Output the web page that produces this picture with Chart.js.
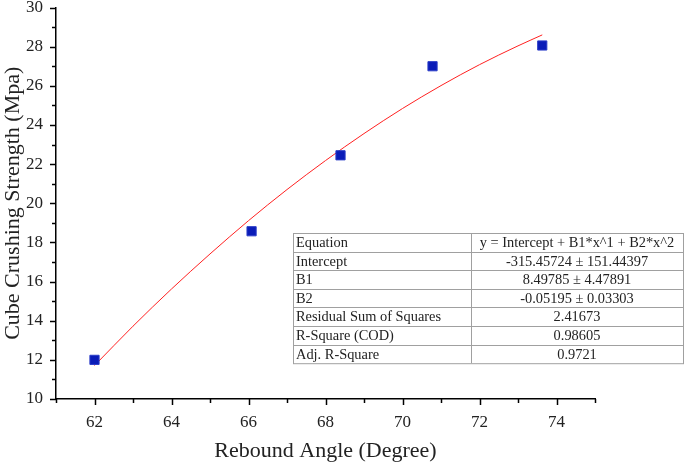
<!DOCTYPE html>
<html>
<head>
<meta charset="utf-8">
<script src="https://cdn.jsdelivr.net/npm/chart.js@4"></script>
<style>
  html, body { margin: 0; padding: 0; background: #fff; }
  #wrap { width: 685px; height: 464px; }
</style>
</head>
<body>
<div id="wrap"><canvas id="graf"></canvas></div>
<script>
// ---------- dados ----------
const reboundAngle = [62.0, 66.08, 68.39, 70.78, 73.63];
const cubeStrength = [12.0, 18.57, 22.45, 27.0, 28.06];

// curva ajustada
const fitX = [62, 63, 64, 65, 66, 67, 68, 69, 70, 71, 72, 73, 73.63];
const fitY = [11.71, 13.72, 15.62, 17.41, 19.11, 20.7, 22.18, 23.56, 24.84, 26.01, 27.08, 28.04, 28.6];

const tableLabels = ["Equation", "Intercept", "B1", "B2", "Residual Sum of Squares", "R-Square (COD)", "Adj. R-Square"];
const tableValues = ["y = Intercept + B1*x^1 + B2*x^2", "-315.45724 \u00b1 151.44397", "8.49785 \u00b1 4.47891",
  "-0.05195 \u00b1 0.03303", "2.41673", "0.98605", "0.9721"];

const SERIF = "'Liberation Serif', 'DejaVu Serif', serif";

// ---------- ticks menores/maiores ----------
const ticksPlugin = {
  id: "ticks",
  afterDraw(chart) {
    const ctx = chart.ctx;
    const xs = chart.scales.x, ys = chart.scales.y;
    ctx.save();
    ctx.strokeStyle = "#000";
    ctx.lineWidth = 1.5;
    for (let v = xs.min; v <= xs.max; v++) {
      const px = Math.round(xs.getPixelForValue(v)) + 0.5;
      const len = v % 2 === 0 ? 6 : 4;
      ctx.beginPath();
      ctx.moveTo(px, ys.bottom);
      ctx.lineTo(px, ys.bottom + len);
      ctx.stroke();
    }
    for (let v = ys.min; v <= ys.max; v++) {
      const py = Math.round(ys.getPixelForValue(v)) + 0.5;
      const len = v % 2 === 0 ? 6 : 4;
      ctx.beginPath();
      ctx.moveTo(xs.left, py);
      ctx.lineTo(xs.left - len, py);
      ctx.stroke();
    }
    ctx.restore();
  },
};

// ---------- tabela ----------
const tablePlugin = {
  id: "tabela",
  afterDraw(chart) {
    const ctx = chart.ctx;
    const left = 293, top = 233, mid = 471, right = 683, rowH = 18.6;
    const bottom = top + rowH * tableLabels.length;
    ctx.save();
    ctx.fillStyle = "#fff";
    ctx.fillRect(left, top, right - left, bottom - top);
    ctx.strokeStyle = "#a0a0a0";
    ctx.lineWidth = 1;
    ctx.strokeRect(left + 0.5, top + 0.5, right - left, bottom - top);
    ctx.beginPath();
    ctx.moveTo(mid + 0.5, top);
    ctx.lineTo(mid + 0.5, bottom);
    for (let i = 1; i < tableLabels.length; i++) {
      const y = Math.round(top + i * rowH) + 0.5;
      ctx.moveTo(left, y);
      ctx.lineTo(right, y);
    }
    ctx.stroke();
    ctx.fillStyle = "#222";
    ctx.font = "14.4px " + SERIF;
    ctx.textBaseline = "middle";
    tableLabels.forEach((t, i) => {
      const cy = top + i * rowH + rowH / 2 + 1;
      ctx.textAlign = "left";
      ctx.fillText(t, left + 3, cy);
      ctx.textAlign = "center";
      ctx.fillText(tableValues[i], (mid + right) / 2, cy);
    });
    ctx.restore();
  },
};

// ---------- gráfico ----------
new Chart(document.getElementById("graf"), {
  type: "scatter",
  data: {
    datasets: [
      {
        label: "Fit",
        type: "line",
        data: fitX.map((x, i) => ({ x, y: fitY[i] })),
        borderColor: "#ff2020",
        borderWidth: 1,
        pointRadius: 0,
        cubicInterpolationMode: "monotone",
        fill: false,
        order: 2,
      },
      {
        label: "Data",
        data: reboundAngle.map((x, i) => ({ x, y: cubeStrength[i] })),
        pointStyle: "rect",
        pointRadius: 6.5,
        backgroundColor: "#0a1cb8",
        borderColor: "#2a3cc8",
        borderWidth: 1,
        order: 1,
      },
    ],
  },
  options: {
    responsive: true,
    maintainAspectRatio: false,
    animation: false,
    layout: { padding: { top: 7, right: 90, left: 0, bottom: 0 } },
    plugins: { legend: { display: false }, tooltip: { enabled: false } },
    scales: {
      x: {
        type: "linear",
        min: 61,
        max: 75,
        afterFit: (s) => { s.height = 65; s.paddingLeft = 0; s.paddingRight = 0; },
        grid: { drawOnChartArea: false, color: "transparent", tickLength: 6 },
        border: { display: true, color: "#000", width: 1.5 },
        ticks: {
          stepSize: 1,
          padding: 7,
          color: "#222",
          font: { family: SERIF, size: 17 },
          callback: (v) => (v % 2 === 0 ? v : ""),
        },
        title: {
          display: true,
          text: "Rebound Angle (Degree)",
          color: "#222",
          font: { family: SERIF, size: 22 },
          padding: { top: 4, bottom: 0 },
        },
      },
      y: {
        type: "linear",
        min: 10,
        max: 30,
        afterFit: (s) => { s.width = 56; s.paddingTop = 0; s.paddingBottom = 0; },
        grid: { drawOnChartArea: false, color: "transparent", tickLength: 6 },
        border: { display: true, color: "#000", width: 1.5 },
        ticks: {
          stepSize: 1,
          padding: 7,
          color: "#222",
          font: { family: SERIF, size: 17 },
          callback: (v) => (v % 2 === 0 ? v : ""),
        },
        title: {
          display: true,
          text: "Cube Crushing Strength (Mpa)",
          color: "#222",
          font: { family: SERIF, size: 22 },
          padding: { top: 0, bottom: 0 },
        },
      },
    },
  },
  plugins: [ticksPlugin, tablePlugin],
});
</script>
</body>
</html>
